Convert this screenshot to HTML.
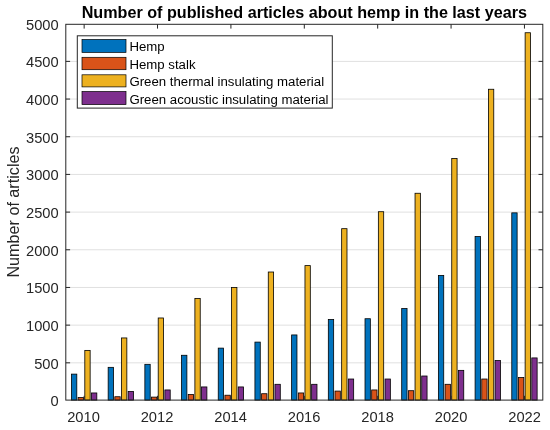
<!DOCTYPE html>
<html lang="en"><head><meta charset="utf-8"><title>Number of published articles about hemp in the last years</title>
<style>html,body{margin:0;padding:0;background:#fff;}body{width:550px;height:430px;overflow:hidden;}svg{display:block;}text{font-family:'Liberation Sans', Arial, Helvetica, sans-serif;fill:#262626;}</style></head><body>
<svg width="550" height="430" viewBox="0 0 550 430">
<rect x="0" y="0" width="550" height="430" fill="#ffffff"/>
<g stroke="#e0e0e0" stroke-width="1" fill="none">
<line x1="65.80" y1="362.82" x2="542.80" y2="362.82"/>
<line x1="65.80" y1="325.14" x2="542.80" y2="325.14"/>
<line x1="65.80" y1="287.46" x2="542.80" y2="287.46"/>
<line x1="65.80" y1="249.78" x2="542.80" y2="249.78"/>
<line x1="65.80" y1="212.10" x2="542.80" y2="212.10"/>
<line x1="65.80" y1="174.42" x2="542.80" y2="174.42"/>
<line x1="65.80" y1="136.74" x2="542.80" y2="136.74"/>
<line x1="65.80" y1="99.06" x2="542.80" y2="99.06"/>
<line x1="65.80" y1="61.38" x2="542.80" y2="61.38"/>
</g>
<g stroke="#000000" stroke-width="0.8">
<g fill="#0072BD">
<rect x="71.47" y="374.12" width="5.34" height="25.98"/>
<rect x="108.16" y="367.34" width="5.34" height="32.76"/>
<rect x="144.86" y="364.33" width="5.34" height="35.77"/>
<rect x="181.55" y="355.28" width="5.34" height="44.82"/>
<rect x="218.24" y="348.12" width="5.34" height="51.98"/>
<rect x="254.93" y="342.10" width="5.34" height="58.00"/>
<rect x="291.62" y="334.94" width="5.34" height="65.16"/>
<rect x="328.32" y="319.49" width="5.34" height="80.61"/>
<rect x="365.01" y="318.73" width="5.34" height="81.37"/>
<rect x="401.70" y="308.56" width="5.34" height="91.54"/>
<rect x="438.39" y="275.40" width="5.34" height="124.70"/>
<rect x="475.09" y="236.59" width="5.34" height="163.51"/>
<rect x="511.78" y="212.85" width="5.34" height="187.25"/>
</g>
<g fill="#D95319">
<rect x="78.14" y="397.49" width="5.34" height="2.61"/>
<rect x="114.83" y="396.73" width="5.34" height="3.37"/>
<rect x="151.53" y="397.11" width="5.34" height="2.99"/>
<rect x="188.22" y="394.47" width="5.34" height="5.63"/>
<rect x="224.91" y="395.22" width="5.34" height="4.88"/>
<rect x="261.60" y="393.72" width="5.34" height="6.38"/>
<rect x="298.30" y="392.96" width="5.34" height="7.14"/>
<rect x="334.99" y="391.08" width="5.34" height="9.02"/>
<rect x="371.68" y="389.95" width="5.34" height="10.15"/>
<rect x="408.37" y="390.70" width="5.34" height="9.40"/>
<rect x="445.07" y="384.30" width="5.34" height="15.80"/>
<rect x="481.76" y="379.02" width="5.34" height="21.08"/>
<rect x="518.45" y="377.52" width="5.34" height="22.58"/>
</g>
<g fill="#EDB120">
<rect x="84.81" y="350.39" width="5.34" height="49.71"/>
<rect x="121.51" y="337.95" width="5.34" height="62.15"/>
<rect x="158.20" y="317.98" width="5.34" height="82.12"/>
<rect x="194.89" y="298.39" width="5.34" height="101.71"/>
<rect x="231.58" y="287.46" width="5.34" height="112.64"/>
<rect x="268.27" y="272.01" width="5.34" height="128.09"/>
<rect x="304.97" y="265.61" width="5.34" height="134.49"/>
<rect x="341.66" y="228.68" width="5.34" height="171.42"/>
<rect x="378.35" y="211.72" width="5.34" height="188.38"/>
<rect x="415.04" y="193.26" width="5.34" height="206.84"/>
<rect x="451.74" y="158.59" width="5.34" height="241.51"/>
<rect x="488.43" y="89.26" width="5.34" height="310.84"/>
<rect x="525.12" y="32.74" width="5.34" height="367.36"/>
</g>
<g fill="#7E2F8E">
<rect x="91.48" y="392.96" width="5.34" height="7.14"/>
<rect x="128.18" y="391.46" width="5.34" height="8.64"/>
<rect x="164.87" y="389.95" width="5.34" height="10.15"/>
<rect x="201.56" y="386.94" width="5.34" height="13.16"/>
<rect x="238.25" y="386.94" width="5.34" height="13.16"/>
<rect x="274.95" y="384.30" width="5.34" height="15.80"/>
<rect x="311.64" y="384.30" width="5.34" height="15.80"/>
<rect x="348.33" y="379.02" width="5.34" height="21.08"/>
<rect x="385.02" y="379.02" width="5.34" height="21.08"/>
<rect x="421.72" y="376.01" width="5.34" height="24.09"/>
<rect x="458.41" y="370.36" width="5.34" height="29.74"/>
<rect x="495.10" y="360.56" width="5.34" height="39.54"/>
<rect x="531.79" y="357.92" width="5.34" height="42.18"/>
</g>
</g>
<g stroke="#262626" stroke-width="1" fill="none">
<rect x="65.80" y="24.30" width="477.00" height="375.80"/>
<line x1="84.15" y1="400.10" x2="84.15" y2="395.80"/>
<line x1="84.15" y1="24.30" x2="84.15" y2="28.60"/>
<line x1="157.53" y1="400.10" x2="157.53" y2="395.80"/>
<line x1="157.53" y1="24.30" x2="157.53" y2="28.60"/>
<line x1="230.92" y1="400.10" x2="230.92" y2="395.80"/>
<line x1="230.92" y1="24.30" x2="230.92" y2="28.60"/>
<line x1="304.30" y1="400.10" x2="304.30" y2="395.80"/>
<line x1="304.30" y1="24.30" x2="304.30" y2="28.60"/>
<line x1="377.68" y1="400.10" x2="377.68" y2="395.80"/>
<line x1="377.68" y1="24.30" x2="377.68" y2="28.60"/>
<line x1="451.07" y1="400.10" x2="451.07" y2="395.80"/>
<line x1="451.07" y1="24.30" x2="451.07" y2="28.60"/>
<line x1="524.45" y1="400.10" x2="524.45" y2="395.80"/>
<line x1="524.45" y1="24.30" x2="524.45" y2="28.60"/>
<line x1="65.80" y1="362.82" x2="70.10" y2="362.82"/>
<line x1="542.80" y1="362.82" x2="538.50" y2="362.82"/>
<line x1="65.80" y1="325.14" x2="70.10" y2="325.14"/>
<line x1="542.80" y1="325.14" x2="538.50" y2="325.14"/>
<line x1="65.80" y1="287.46" x2="70.10" y2="287.46"/>
<line x1="542.80" y1="287.46" x2="538.50" y2="287.46"/>
<line x1="65.80" y1="249.78" x2="70.10" y2="249.78"/>
<line x1="542.80" y1="249.78" x2="538.50" y2="249.78"/>
<line x1="65.80" y1="212.10" x2="70.10" y2="212.10"/>
<line x1="542.80" y1="212.10" x2="538.50" y2="212.10"/>
<line x1="65.80" y1="174.42" x2="70.10" y2="174.42"/>
<line x1="542.80" y1="174.42" x2="538.50" y2="174.42"/>
<line x1="65.80" y1="136.74" x2="70.10" y2="136.74"/>
<line x1="542.80" y1="136.74" x2="538.50" y2="136.74"/>
<line x1="65.80" y1="99.06" x2="70.10" y2="99.06"/>
<line x1="542.80" y1="99.06" x2="538.50" y2="99.06"/>
<line x1="65.80" y1="61.38" x2="70.10" y2="61.38"/>
<line x1="542.80" y1="61.38" x2="538.50" y2="61.38"/>
</g>
<g font-size="14.7">
<text x="83.55" y="421.9" text-anchor="middle">2010</text>
<text x="157.06" y="421.9" text-anchor="middle">2012</text>
<text x="230.57" y="421.9" text-anchor="middle">2014</text>
<text x="304.07" y="421.9" text-anchor="middle">2016</text>
<text x="377.58" y="421.9" text-anchor="middle">2018</text>
<text x="451.09" y="421.9" text-anchor="middle">2020</text>
<text x="524.60" y="421.9" text-anchor="middle">2022</text>
<text x="58.7" y="406.35" text-anchor="end">0</text>
<text x="58.7" y="368.67" text-anchor="end">500</text>
<text x="58.7" y="330.99" text-anchor="end">1000</text>
<text x="58.7" y="293.31" text-anchor="end">1500</text>
<text x="58.7" y="255.63" text-anchor="end">2000</text>
<text x="58.7" y="217.95" text-anchor="end">2500</text>
<text x="58.7" y="180.27" text-anchor="end">3000</text>
<text x="58.7" y="142.59" text-anchor="end">3500</text>
<text x="58.7" y="104.91" text-anchor="end">4000</text>
<text x="58.7" y="67.23" text-anchor="end">4500</text>
<text x="58.7" y="29.55" text-anchor="end">5000</text>
</g>
<text x="304.30" y="18.3" text-anchor="middle" font-size="16.17" font-weight="bold" style="fill:#000">Number of published articles about hemp in the last years</text>
<text transform="translate(18.6,212.00) rotate(-90)" text-anchor="middle" font-size="16.17">Number of articles</text>
<rect x="77.30" y="35.80" width="255.00" height="72.30" fill="#fff" stroke="#262626" stroke-width="1"/>
<rect x="82" y="39.50" width="44" height="12.90" fill="#0072BD" stroke="#000" stroke-width="0.7"/>
<text x="129.4" y="51.00" font-size="13.22" style="fill:#000">Hemp</text>
<rect x="82" y="57.30" width="44" height="12.40" fill="#D95319" stroke="#000" stroke-width="0.7"/>
<text x="129.4" y="68.60" font-size="13.22" style="fill:#000">Hemp stalk</text>
<rect x="82" y="74.80" width="44" height="12.10" fill="#EDB120" stroke="#000" stroke-width="0.7"/>
<text x="129.4" y="86.20" font-size="13.22" style="fill:#000">Green thermal insulating material</text>
<rect x="82" y="91.50" width="44" height="13.10" fill="#7E2F8E" stroke="#000" stroke-width="0.7"/>
<text x="129.4" y="103.80" font-size="13.22" style="fill:#000">Green acoustic insulating material</text>
</svg></body></html>
